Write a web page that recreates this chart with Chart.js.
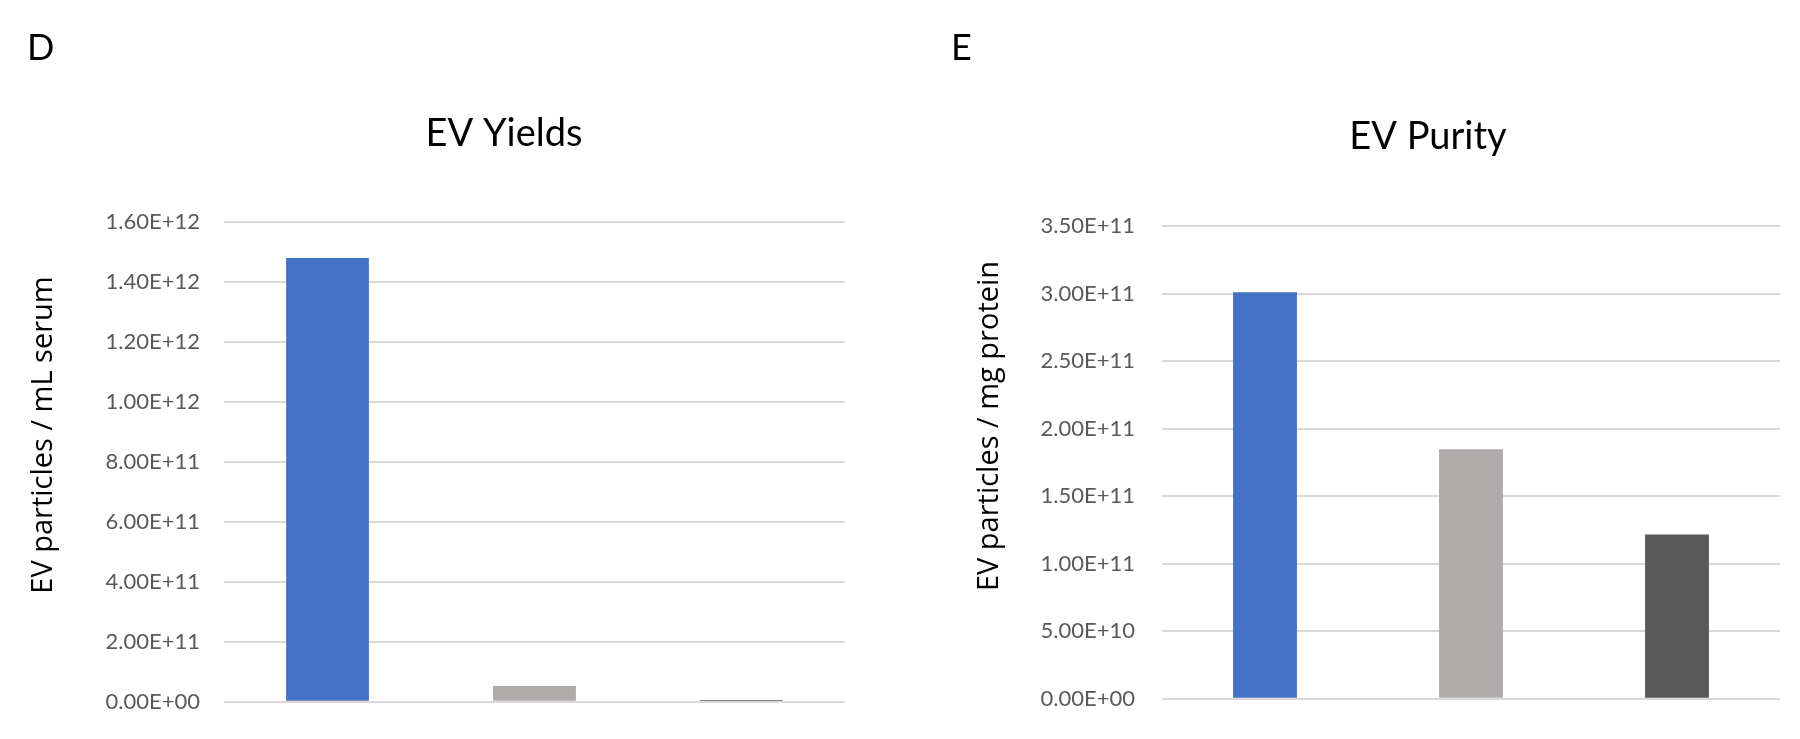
<!DOCTYPE html>
<html>
<head>
<meta charset="utf-8">
<title>EV Yields / EV Purity</title>
<script src="https://cdn.jsdelivr.net/npm/chart.js@4.4.1/dist/chart.umd.min.js"></script>
<style>
  html, body { margin: 0; padding: 0; background: #fff; }
  .panel { position: absolute; top: 0; width: 900px; height: 739px; }
  #left { left: 0; }
  #right { left: 900px; }
</style>
</head>
<body>
<div class="panel" id="left"><canvas id="yieldChart"></canvas></div>
<div class="panel" id="right"><canvas id="purityChart"></canvas></div>
<script>
// data
const categories = ['A', 'B', 'C'];
const barColors = ['#4472C4', '#AFABAB', '#595959'];

const yieldValues = [1.48e12, 5.3e10, 6e9];     // EV particles / mL serum
const yieldMax = 1.6e12;
const yieldStep = 2e11;

const purityValues = [3.01e11, 1.848e11, 1.217e11]; // EV particles / mg protein
const purityMax = 3.5e11;
const purityStep = 5e10;

// 1.60E+12 style, like Excel
function sci(v) {
  let s = Number(v).toExponential(2).toUpperCase();
  let parts = s.split('E');
  let exp = parts[1];
  let sign = exp[0];
  let digits = exp.slice(1);
  if (digits.length < 2) digits = '0' + digits;
  return parts[0] + 'E' + sign + digits;
}

// draws panel letter, chart title and y-axis title as text
const panelText = {
  id: 'panelText',
  afterDraw(chart, args, opts) {
    const ctx = chart.ctx;
    ctx.save();
    ctx.fillStyle = '#000';
    ctx.font = '36px Lato';
    ctx.textAlign = 'left';
    ctx.textBaseline = 'alphabetic';
    ctx.fillText(opts.letter, opts.letterX, 60);

    ctx.font = '38px Lato';
    ctx.textAlign = 'center';
    ctx.fillText(opts.title, opts.titleX, opts.titleY);

    ctx.translate(opts.axisX, opts.axisY);
    ctx.rotate(-Math.PI / 2);
    ctx.font = '29px "Open Sans"';
    ctx.textBaseline = 'middle';
    ctx.fillText(opts.axisTitle, 0, 0);
    ctx.restore();
  }
};

function makeChart(id, values, maxVal, step, barPct, yWidth, tickPad, pad, text) {
  const ctx = document.getElementById(id).getContext('2d');
  return new Chart(ctx, {
    type: 'bar',
    data: {
      labels: categories,
      datasets: [{
        data: values,
        backgroundColor: barColors,
        borderWidth: 0,
        barPercentage: barPct,
        categoryPercentage: 1
      }]
    },
    options: {
      responsive: true,
      maintainAspectRatio: false,
      animation: false,
      layout: { padding: pad },
      plugins: {
        legend: { display: false },
        title: { display: false },
        tooltip: { enabled: false },
        panelText: text
      },
      scales: {
        x: { display: false },
        y: {
          min: 0,
          max: maxVal,
          afterFit(scale) { scale.width = yWidth; },
          ticks: {
            stepSize: step,
            padding: tickPad,
            color: '#595959',
            font: { family: 'Lato', size: 22 },
            callback: (v) => sci(v)
          },
          grid: { color: '#D9D9D9', lineWidth: 2, drawTicks: false },
          border: { display: false }
        }
      }
    },
    plugins: [panelText]
  });
}

makeChart('yieldChart', yieldValues, yieldMax, yieldStep, 0.4, 224, 24,
  { left: 0, right: 55, top: 222, bottom: 36 },
  { letter: 'D', letterX: 27, title: 'EV Yields', titleX: 504, titleY: 146,
    axisTitle: 'EV particles / mL serum', axisX: 44, axisY: 435 });

makeChart('purityChart', purityValues, purityMax, purityStep, 0.31, 262, 27,
  { left: 0, right: 20, top: 226, bottom: 30 },
  { letter: 'E', letterX: 51, title: 'EV Purity', titleX: 528, titleY: 149,
    axisTitle: 'EV particles / mg protein', axisX: 90, axisY: 426 });
</script>
</body>
</html>
